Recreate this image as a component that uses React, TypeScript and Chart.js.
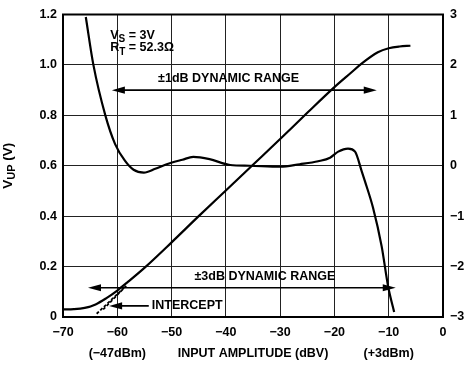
import React, { useEffect, useRef } from "react";
import { Chart, registerables } from "chart.js";

Chart.register(...registerables);

// Input amplitude (dBV) vs V_UP (V), left axis
const vupX = [-70, -68, -66, -64, -62, -60, -58, -55, -50, -45, -40, -35, -30, -25, -20, -17, -15, -12, -10, -8, -6];
const vupY = [0.03, 0.031, 0.036, 0.05, 0.075, 0.105, 0.14, 0.195, 0.296, 0.4, 0.502, 0.604, 0.706, 0.81, 0.912, 0.968, 1.005, 1.05, 1.066, 1.073, 1.076];

// Log-conformance error (dB), right axis
const errX = [-65.8, -64.4, -62.2, -60.4, -58.6, -57, -55.1, -53, -50.9, -48, -46, -43, -39.2, -35.6, -30, -26.4, -23, -20.8, -19.3, -17.5, -16.2, -15, -14.4, -12.9, -11.3, -10.1, -9.0];
const errY = [2.95, 2.0, 1.0, 0.43, 0.1, -0.08, -0.135, -0.06, 0.03, 0.12, 0.175, 0.13, 0.015, 0, -0.02, 0.03, 0.09, 0.16, 0.28, 0.34, 0.28, -0.1, -0.3, -0.83, -1.6, -2.4, -2.9];

// Intercept extrapolation (dashed)
const dash1X = [-63.8, -58.8];
const dash1Y = [0.013, 0.115];
const dash2X = [-62.6, -58.3];
const dash2Y = [0.03, 0.125];

// Axis ticks
const xTicks = [-70, -60, -50, -40, -30, -20, -10, 0];
const leftTicks = [0, 0.2, 0.4, 0.6, 0.8, 1.0, 1.2];
const rightTicks = [-3, -2, -1, 0, 1, 2, 3];

// Annotations (data coordinates)
const range1dB = [-61, -12.2];
const range1dBLevel = 0.9;
const range3dB = [-65.4, -8.7];
const range3dBLevel = 0.116;
const interceptArrow = [-61.5, -54.2];
const interceptLevel = 0.044;

const FONT = '"Liberation Sans", Arial, Helvetica, sans-serif';

const minus = (s: string) => s.replace("-", "\u2212");

function drawParts(ctx: CanvasRenderingContext2D, parts: [string, boolean][], x: number, y: number, size: number, align: "left" | "center") {
  const mainF = `bold ${size}px ${FONT}`;
  const subF = `bold ${Math.round(size * 0.8)}px ${FONT}`;
  let total = 0;
  for (const [t, sub] of parts) {
    ctx.font = sub ? subF : mainF;
    total += ctx.measureText(t).width;
  }
  let cx = align === "center" ? x - total / 2 : x;
  ctx.textAlign = "left";
  ctx.textBaseline = "middle";
  for (const [t, sub] of parts) {
    ctx.font = sub ? subF : mainF;
    ctx.fillText(t, cx, sub ? y + size * 0.3 : y);
    cx += ctx.measureText(t).width;
  }
}

function arrowHead(ctx: CanvasRenderingContext2D, tipX: number, y: number, dir: number) {
  const len = 13;
  const hw = 3.6;
  ctx.beginPath();
  ctx.moveTo(tipX, y);
  ctx.lineTo(tipX - dir * len, y - hw);
  ctx.lineTo(tipX - dir * len, y + hw);
  ctx.closePath();
  ctx.fill();
}

const annotPlugin = {
  id: "annot",
  afterDraw(chart: any) {
    const { ctx, chartArea } = chart;
    const x = chart.scales.x;
    const y = chart.scales.y;
    ctx.save();
    ctx.fillStyle = "#000";
    ctx.strokeStyle = "#000";

    // frame
    ctx.lineWidth = 2;
    ctx.strokeRect(chartArea.left, chartArea.top, chartArea.right - chartArea.left, chartArea.bottom - chartArea.top);

    // VS / RT
    drawParts(ctx, [["V", false], ["S", true], [" = 3V", false]], x.getPixelForValue(-61.3), y.getPixelForValue(1.117), 12.5, "left");
    drawParts(ctx, [["R", false], ["T", true], [" = 52.3\u03A9", false]], x.getPixelForValue(-61.3), y.getPixelForValue(1.067), 12.5, "left");

    // ±1dB
    drawParts(ctx, [["\u00B11dB DYNAMIC RANGE", false]], x.getPixelForValue(-39.5), y.getPixelForValue(0.946), 12.5, "center");
    {
      const yy = y.getPixelForValue(range1dBLevel);
      const a = x.getPixelForValue(range1dB[0]);
      const b = x.getPixelForValue(range1dB[1]);
      ctx.lineWidth = 1.6;
      ctx.beginPath();
      ctx.moveTo(a + 5, yy);
      ctx.lineTo(b - 5, yy);
      ctx.stroke();
      arrowHead(ctx, a, yy, -1);
      arrowHead(ctx, b, yy, 1);
    }

    // ±3dB
    drawParts(ctx, [["\u00B13dB DYNAMIC RANGE", false]], x.getPixelForValue(-32.8), y.getPixelForValue(0.162), 12.5, "center");
    {
      const yy = y.getPixelForValue(range3dBLevel);
      const a = x.getPixelForValue(range3dB[0]);
      const b = x.getPixelForValue(range3dB[1]);
      ctx.lineWidth = 1.6;
      ctx.beginPath();
      ctx.moveTo(a + 5, yy);
      ctx.lineTo(b - 5, yy);
      ctx.stroke();
      arrowHead(ctx, a, yy, -1);
      arrowHead(ctx, b, yy, 1);
    }

    // INTERCEPT
    {
      const yy = y.getPixelForValue(interceptLevel);
      const a = x.getPixelForValue(interceptArrow[0]);
      const b = x.getPixelForValue(interceptArrow[1]);
      ctx.lineWidth = 1.6;
      ctx.beginPath();
      ctx.moveTo(a + 5, yy);
      ctx.lineTo(b, yy);
      ctx.stroke();
      arrowHead(ctx, a, yy, -1);
      drawParts(ctx, [["INTERCEPT", false]], b + 3, yy, 12.5, "left");
    }

    // bottom labels
    const by = chartArea.bottom + 37;
    drawParts(ctx, [["(\u221247dBm)", false]], x.getPixelForValue(-60), by, 12.5, "center");
    drawParts(ctx, [["INPUT AMPLITUDE (dBV)", false]], (chartArea.left + chartArea.right) / 2, by, 12.5, "center");
    drawParts(ctx, [["(+3dBm)", false]], x.getPixelForValue(-10), by, 12.5, "center");

    // y title
    ctx.save();
    ctx.translate(8, (chartArea.top + chartArea.bottom) / 2);
    ctx.rotate(-Math.PI / 2);
    drawParts(ctx, [["V", false], ["UP", true], [" (V)", false]], 0, 0, 13.5, "center");
    ctx.restore();

    ctx.restore();
  },
};

export default function App() {
  const ref = useRef<HTMLCanvasElement | null>(null);
  useEffect(() => {
    if (!ref.current) return;
    const toXY = (xs: number[], ys: number[]) => xs.map((v, i) => ({ x: v, y: ys[i] }));
    const tickFont = { family: FONT, size: 12.5, weight: "bold" as const };
    const chart = new Chart(ref.current, {
      type: "line",
      data: {
        datasets: [
          {
            data: toXY(vupX, vupY),
            yAxisID: "y",
            borderColor: "#000",
            borderWidth: 2.2,
            pointRadius: 0,
            cubicInterpolationMode: "monotone",
            fill: false,
          },
          {
            data: toXY(errX, errY),
            yAxisID: "y1",
            borderColor: "#000",
            borderWidth: 2.2,
            pointRadius: 0,
            cubicInterpolationMode: "monotone",
            fill: false,
          },
          {
            data: toXY(dash1X, dash1Y),
            yAxisID: "y",
            borderColor: "#000",
            borderWidth: 1.8,
            borderDash: [3, 2],
            pointRadius: 0,
            fill: false,
          },
          {
            data: toXY(dash2X, dash2Y),
            yAxisID: "y",
            borderColor: "#000",
            borderWidth: 1.8,
            borderDash: [3, 2],
            pointRadius: 0,
            fill: false,
          },
        ],
      },
      options: {
        animation: false,
        responsive: false,
        devicePixelRatio: 1,
        layout: { padding: { top: 13, left: 0, right: 0, bottom: 0 } },
        plugins: { legend: { display: false }, tooltip: { enabled: false } },
        scales: {
          x: {
            type: "linear",
            min: -70,
            max: 0,
            afterBuildTicks: (s: any) => {
              s.ticks = xTicks.map((v) => ({ value: v }));
            },
            afterFit: (s: any) => {
              s.height = 50;
            },
            grid: { color: "#222", lineWidth: 1, drawTicks: false },
            border: { display: false },
            ticks: {
              font: tickFont,
              color: "#000",
              padding: 8,
              maxRotation: 0,
              callback: (v: any) => minus(String(v)),
            },
          },
          y: {
            type: "linear",
            position: "left",
            min: 0,
            max: 1.2,
            afterBuildTicks: (s: any) => {
              s.ticks = leftTicks.map((v) => ({ value: v }));
            },
            afterFit: (s: any) => {
              s.width = 63;
            },
            grid: { color: "#222", lineWidth: 1, drawTicks: false },
            border: { display: false },
            ticks: {
              font: tickFont,
              color: "#000",
              padding: 6,
              callback: (v: any) => (v === 0 ? "0" : Number(v).toFixed(1)),
            },
          },
          y1: {
            type: "linear",
            position: "right",
            min: -3,
            max: 3,
            afterBuildTicks: (s: any) => {
              s.ticks = rightTicks.map((v) => ({ value: v }));
            },
            afterFit: (s: any) => {
              s.width = 26;
            },
            grid: { drawOnChartArea: false, drawTicks: false },
            border: { display: false },
            ticks: {
              font: tickFont,
              color: "#000",
              padding: 7,
              callback: (v: any) => minus(String(v)),
            },
          },
        },
      },
      plugins: [annotPlugin],
    });
    return () => chart.destroy();
  }, []);
  return (
    <div style={{ position: "absolute", left: 0, top: 0, width: 469, height: 367, background: "#fff" }}>
      <canvas ref={ref} width={469} height={367} style={{ display: "block" }} />
    </div>
  );
}
